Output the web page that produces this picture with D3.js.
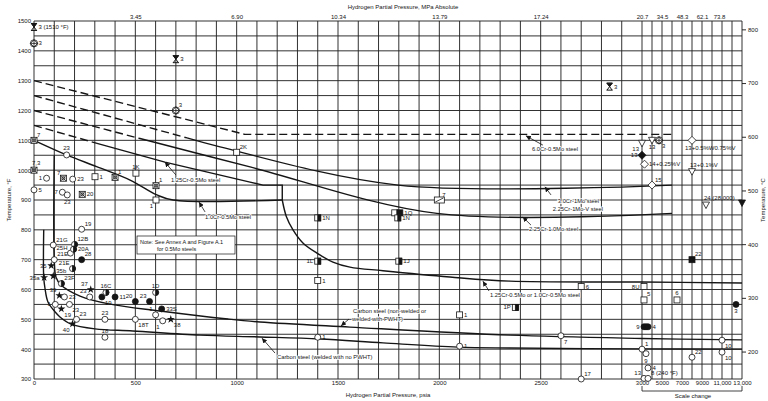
<!DOCTYPE html>
<html><head><meta charset="utf-8">
<script src="https://cdn.jsdelivr.net/npm/d3@7"></script>
<style>
body{margin:0;background:#fff;}
svg{display:block;font-family:"Liberation Sans",Arial,sans-serif;}
</style></head><body>
<svg id="c" width="768" height="401"></svg>
<script>
// ---------------- DATA ----------------
const psiaTicks = [0,500,1000,1500,2000,2500,3000,5000,7000,9000,11000,13000];
const psiaTickLabels = ["0","500","1000","1500","2000","2500","3000","5000","7000","9000","11,000","13,000"];
const mpaTickPsia = [500,1000,1500,2000,2500,3000,5000,7000,9000,10700];
const mpaTickLabels = ["3.45","6.90","10.34","13.79","17.24","20.7","34.5","48.3","62.1","73.8"];
const tempFTicks = [300,400,500,600,700,800,900,1000,1100,1200,1300,1400,1500];
const tempCTicks = [200,300,400,500,600,700,800];
const gridPsia = d3.range(0,3001,100).concat(d3.range(4000,13001,1000));
const gridTempF = d3.range(300,1501,50);

// curves [psia, °F]
const cr6Mo05 = [[0,1300],[1040,1120],[6000,1120]];
const cr3Mo1 = [[0,1250],[755,1108],[918,1078],[1796,950],[6000,950]];
const cr225Mo1 = [[0,1200],[523,1106],[1066,1011],[1988,855],[6000,855]];
const cr125Mo05 = [[0,1150],[311,1090],[646,1027],[1066,960],[1130,950],[1225,950],[1225,900]];
const cr10Mo05 = [[0,1100],[161,1051],[309,1012],[474,967],[606,917],[686,900],[1225,900]];
const crCombined = [[1225,900],[1245,845],[1278,800],[1327,756],[1396,722],[1475,692],[1559,675],[1722,663],[2052,642],[2348,628],[3000,625],[13000,622]];
const csNonWelded = [[100,1050],[100,700],[109,640],[133,615],[227,578],[375,551],[622,528],[957,501],[1115,491],[1559,474],[2348,447],[3000,436],[13000,431]];
const csWeldedNoPWHT = [[48,800],[48,640],[54,605],[69,558],[104,525],[128,508],[183,484],[301,468],[488,461],[819,447],[1115,441],[1411,434],[1722,421],[2092,407],[2348,404],[3000,401],[13000,400]];

// observations [psia, °F, symbol, label]
const observations = [
 [0,1480,'hg','3 (1510 °F)'],[0,1425,'xd','3'],[700,1372,'hg','3'],[700,1200,'xd','3'],
 [0,1100,'xs','7'],[0,1000,'xs','7,3'],[0,934,'oc','5'],[62,973,'oc','1'],
 [145,973,'xs','7'],[191,970,'oc','23'],[301,978,'os','1'],[400,976,'xs','1'],
 [503,990,'os','1K'],[602,948,'xs','1'],[602,900,'os','1'],[140,926,'oc','7'],
 [164,917,'oc','23'],[238,919,'xs','20'],[161,1051,'oc','23'],[1000,1060,'os','2K'],
 [235,802,'oc','19'],[95,749,'oc','21G'],[200,751,'hc','12B'],[180,722,'oc','25H'],
 [195,735,'hc','20A'],[235,700,'fc','28'],[100,700,'oc','21E'],[190,670,'hc','21E'],
 [85,680,'st','35'],[50,640,'st','35a'],[95,645,'st','35b'],[135,620,'hc','23F'],
 [280,600,'st','37'],[125,580,'st','39'],[150,575,'oc','23'],[275,575,'oc','23'],
 [335,575,'fc','19'],[355,590,'hc','16C'],[400,575,'fc','11'],[500,560,'fc','20'],
 [570,560,'fc','23'],[600,590,'hc','1D'],[630,535,'fc','33S'],[600,515,'oc','1'],
 [635,495,'oc','1'],[675,500,'st','38'],[500,500,'oc','18T'],[350,500,'oc','23'],
 [350,440,'oc','18'],[210,500,'oc','23'],[190,485,'st','40'],[135,535,'st','19'],
 [105,550,'oc','1'],[175,550,'oc','23'],[1400,840,'hs','1N'],[1780,857,'os',''],
 [1805,857,'fs','1Q'],[1795,840,'hs','1N'],[1400,695,'hs','1L'],[1800,695,'hs','1J'],
 [2000,900,'sr','7'],[1400,630,'os','1'],[1400,440,'oc','1'],[2100,515,'os','1'],
 [2100,410,'oc','1'],[2375,540,'hs','1P'],[2700,610,'os','6'],[3200,610,'os','8U'],
 [3200,565,'os','5'],[6500,565,'os','6'],[12400,550,'fc','3'],[3200,475,'fc','9'],
 [3400,475,'fc',''],[3600,475,'fc','4'],[2600,445,'oc','7'],[3000,400,'oc','1'],
 [3400,385,'oc','9'],[3600,337,'oc','4'],[3200,302,'oc','13'],[3600,302,'oc','8 (240 °F)'],
 [8000,373,'oc','22'],[11000,430,'oc','10'],[11000,390,'oc','10'],[2700,300,'oc','17'],
 [3000,1090,'ot','13'],[4000,1100,'ot','13'],[4700,1100,'xd','3'],[8000,1100,'od','13+0.5%W0.75%V'],
 [3000,1050,'fd','13'],[3250,1020,'od','14+0.25%V'],[8000,995,'ot','13+0.1%V'],[4000,950,'od','15'],
 [9400,883,'ot','24 (28,000)'],[13000,890,'ft',''],[8000,700,'fs','22'],[2840,1280,'hg','3']
];

// ---------------- LAYOUT ----------------
const labelSides = [
 'e','e','e','ne','ne','ns','e','w','nw','e','e','ne','n','ne','sw','w','s','e','n','ne',
 'ne','ne','ne','nw','e','ne','ne','nw','w','w','ne','ne','nw','nw','e','nw','se','n','e','nw',
 'nw','n','e','nw','sw','se','se','n','n','ne','sw','se','w','se','e','e','e','e','w','e',
 'ne','e','e','e','e','w','e','w','ne','n','s','w','e','e','se','ne','s','e','nw','ne',
 'ne','se','se','ne','sw','s','se','ss','w','e','ns','ne','ns','e','ne','e'
];
const callouts = [
 {lines:["1.25Cr-0.5Mo steel"], at:[676,960], tail:[700,984], tip:[646,1027]},
 {lines:["1.0Cr-0.5Mo steel"], at:[844,836], tail:[844,860], tip:[814,893]},
 {lines:["6.0Cr-0.5Mo steel"], at:[2457,1064], tail:[2511,1084], tip:[2427,1115]},
 {lines:["3.0Cr-1Mo steel","2.25Cr-1Mo-V steel"], at:[2560,890], tail:[2551,917], tip:[2521,944], dx:[5,0]},
 {lines:["2.25Cr-1.0Mo steel"], at:[2442,796], tail:[2452,816], tip:[2412,843]},
 {lines:["1.25Cr-0.5Mo or 1.0Cr-0.5Mo steel"], at:[2250,575], tail:[2245,595], tip:[2215,628]},
 {lines:["Carbon steel (non-welded or","welded with PWHT)"], at:[1574,521], tail:[1554,501], tip:[1515,478], dx:[0,-1]},
 {lines:["Carbon steel (welded with no PWHT)"], at:[1199,367], tail:[1189,387], tip:[1125,437]}
];

const x = d3.scaleLinear().domain([0,3000,13000]).range([34,642,742]);
const y = d3.scaleLinear().domain([300,1500]).range([379,21]);
const svg = d3.select('#c');
const ink = '#151515';

svg.append('defs').append('marker').attr('id','ah').attr('markerUnits','userSpaceOnUse')
  .attr('markerWidth',6).attr('markerHeight',5).attr('refX',5).attr('refY',2.5).attr('orient','auto')
  .append('path').attr('d','M0,0L5,2.5L0,5Z').attr('fill',ink);

// grid
const grid = svg.append('g').attr('stroke','#262626').attr('stroke-width',0.95);
grid.selectAll('line.v').data(gridPsia).join('line').attr('class','v')
  .attr('x1',d=>x(d)).attr('x2',d=>x(d)).attr('y1',y(300)).attr('y2',y(1500));
grid.selectAll('line.h').data(gridTempF).join('line').attr('class','h')
  .attr('x1',x(0)).attr('x2',x(13000)).attr('y1',d=>y(d)).attr('y2',d=>y(d));

// axes
const fs = '6px';
const ax = (sel)=>{sel.select('.domain').remove(); sel.selectAll('text').attr('fill',ink).style('font-size',fs).style('font-family','"Liberation Sans",Arial,sans-serif');};
svg.append('g').attr('transform',`translate(0,${y(300)})`)
  .call(d3.axisBottom(x).tickValues(psiaTicks).tickFormat((d,i)=>psiaTickLabels[i]).tickSize(0).tickPadding(1.5)).call(ax);
svg.append('g').attr('transform',`translate(${x(0)},0)`)
  .call(d3.axisLeft(y).tickValues(tempFTicks).tickFormat(d3.format('d')).tickSize(0).tickPadding(3)).call(ax);
svg.append('g').attr('transform',`translate(0,${y(1500)})`)
  .call(d3.axisTop(x).tickValues(mpaTickPsia).tickFormat((d,i)=>mpaTickLabels[i]).tickSize(0).tickPadding(2.5)).call(ax);
const fToC = d3.scaleLinear().domain([200,800]).range([392,1472]);
const yC = d3.scaleLinear().domain([200,800]).range([y(fToC(200)),y(fToC(800))]);
svg.append('g').attr('transform',`translate(${x(13000)},0)`)
  .call(d3.axisRight(yC).tickValues(tempCTicks).tickFormat(d3.format('d')).tickSize(4).tickPadding(2)).call(ax)
  .selectAll('line').attr('stroke',ink).attr('stroke-width',0.9);

// titles
const txt = (t,xx,yy,opt={})=>svg.append('text').attr('x',xx).attr('y',yy).text(t)
  .attr('fill',ink).style('font-size',opt.size||fs).attr('text-anchor',opt.anchor||'middle')
  .attr('transform',opt.rot?`rotate(${opt.rot},${xx},${yy})`:null);
txt('Hydrogen Partial Pressure, MPa Absolute',403,9);
txt('Hydrogen Partial Pressure, psia',388,397);
txt('Scale change',693,398);
txt('Temperature, °F',11,200,{rot:-90});
txt('Temperature, °C',765,200,{rot:-90});
svg.append('path').attr('d',`M${x(3000)},386V391H${x(13000)}V386`).attr('fill','none').attr('stroke',ink).attr('stroke-width',0.8);

// curves
const lineLin = d3.line().x(d=>x(d[0])).y(d=>y(d[1]));
const lineSm = d3.line().x(d=>x(d[0])).y(d=>y(d[1])).curve(d3.curveCatmullRom.alpha(0.5));
const curves = [
 {pts:cr6Mo05, dashTo:2, gen:lineLin},
 {pts:cr3Mo1, dashTo:1, gen:lineSm},
 {pts:cr225Mo1, dashTo:1, gen:lineSm},
 {pts:cr125Mo05, dashTo:1, gen:lineLin},
 {pts:cr10Mo05, dashTo:0, gen:lineSm},
 {pts:crCombined, dashTo:0, gen:lineSm},
 {pts:csNonWelded, dashTo:0, gen:lineSm},
 {pts:csWeldedNoPWHT, dashTo:0, gen:lineSm}
];
const cg = svg.append('g').attr('fill','none').attr('stroke',ink).attr('stroke-width',1.4);
curves.forEach(c=>{
  if(c.dashTo>0){
    cg.append('path').attr('d',lineLin(c.pts.slice(0,c.dashTo+1))).attr('stroke-dasharray','8,4');
  }
  const rest = c.pts.slice(c.dashTo);
  if(rest.length>1) cg.append('path').attr('d',c.gen(rest));
});

// note box
svg.append('rect').attr('x',137).attr('y',236).attr('width',98).attr('height',18).attr('fill','#fff').attr('stroke',ink).attr('stroke-width',0.7);
txt('Note:  See Annex A and Figure A.1',140,243.5,{anchor:'start',size:'5.5px'});
txt('for 0.5Mo steels',157,250.5,{anchor:'start',size:'5.5px'});

// callouts
const ag = svg.append('g');
callouts.forEach(c=>{
  ag.append('line').attr('x1',x(c.tail[0])).attr('y1',y(c.tail[1])).attr('x2',x(c.tip[0])).attr('y2',y(c.tip[1]))
    .attr('stroke',ink).attr('stroke-width',0.8).attr('marker-end','url(#ah)');
  c.lines.forEach((l,i)=>{
    const dx = c.dx?c.dx[i]:0;
    ag.append('text').attr('x',x(c.at[0])+dx).attr('y',y(c.at[1])+i*8).text(l)
      .attr('fill',ink).style('font-size','5.8px').attr('text-anchor','start')
      .attr('paint-order','stroke').attr('stroke','#fff').attr('stroke-width',1.5);
  });
});

// symbols
const mg = svg.append('g').attr('stroke',ink).attr('stroke-width',0.8);
function sym(t,cx,cy){
  const s=3, W='#fff', B=ink;
  const g = mg.append('g').attr('transform',`translate(${cx},${cy})`);
  switch(t){
    case 'oc': g.append('circle').attr('r',s).attr('fill',W); break;
    case 'fc': g.append('circle').attr('r',s).attr('fill',B); break;
    case 'hc': g.append('circle').attr('r',s).attr('fill',W);
      g.append('path').attr('d',`M0,${-s}A${s},${s} 0 0,1 0,${s}Z`).attr('fill',B); break;
    case 'os': g.append('rect').attr('x',-s).attr('y',-s).attr('width',2*s).attr('height',2*s).attr('fill',W); break;
    case 'fs': g.append('rect').attr('x',-s).attr('y',-s).attr('width',2*s).attr('height',2*s).attr('fill',B); break;
    case 'hs': g.append('rect').attr('x',-s).attr('y',-s).attr('width',2*s).attr('height',2*s).attr('fill',W);
      g.append('rect').attr('x',0).attr('y',-s).attr('width',s).attr('height',2*s).attr('fill',B); break;
    case 'xs': g.append('rect').attr('x',-s).attr('y',-s).attr('width',2*s).attr('height',2*s).attr('fill',W);
      g.append('path').attr('d',`M${-s},${-s}L${s},${s}M${s},${-s}L${-s},${s}`); 
      g.append('circle').attr('r',1.6).attr('fill','none'); break;
    case 'xd': g.append('circle').attr('r',3.6).attr('fill',W);
      g.append('path').attr('d','M0,-3.6L3.6,0L0,3.6L-3.6,0Z M0,-3.6V3.6M-3.6,0H3.6').attr('fill','none'); break;
    case 'hg': g.append('path').attr('d','M-3,-3.5H3M-3,3.5H3M-2.6,-3.5L2.6,3.5M2.6,-3.5L-2.6,3.5').attr('fill','none').attr('stroke-width',1);
      g.append('path').attr('d','M-2.6,-3.5L2.6,-3.5L0,0Z').attr('fill',B); break;
    case 'ot': g.append('path').attr('d','M-3.5,-3L3.5,-3L0,3.5Z').attr('fill',W); break;
    case 'ft': g.append('path').attr('d','M-3.5,-3L3.5,-3L0,3.5Z').attr('fill',B); break;
    case 'od': g.append('path').attr('d','M0,-4L4,0L0,4L-4,0Z').attr('fill',W); break;
    case 'fd': g.append('path').attr('d','M0,-4L4,0L0,4L-4,0Z').attr('fill',B); break;
    case 'st': g.append('path').attr('d',d3.symbol(d3.symbolStar,20)()).attr('fill',B).attr('stroke','none'); break;
    case 'sr': g.append('rect').attr('x',-5).attr('y',-3).attr('width',10).attr('height',6).attr('fill',W);
      g.append('path').attr('d','M-4,2L4,-2'); break;
  }
}
const side = {e:[4.5,2,'start'],w:[-4.5,2,'end'],n:[0,-4.5,'middle'],s:[0,9,'middle'],
  ne:[3,-3.5,'start'],nw:[-3,-3.5,'end'],se:[3,8,'start'],sw:[-3,8,'end'],ns:[-2,-5,'start'],ss:[-7,9.5,'start']};
const lg = svg.append('g');
observations.forEach((o,i)=>{
  const px=x(o[0]), py=y(o[1]);
  sym(o[2],px,py);
  if(o[3]){
    const p = side[labelSides[i]]||side.e;
    lg.append('text').attr('x',px+p[0]).attr('y',py+p[1]).text(o[3]).attr('text-anchor',p[2])
      .attr('fill',ink).style('font-size',fs);
  }
});
</script>
</body></html>
